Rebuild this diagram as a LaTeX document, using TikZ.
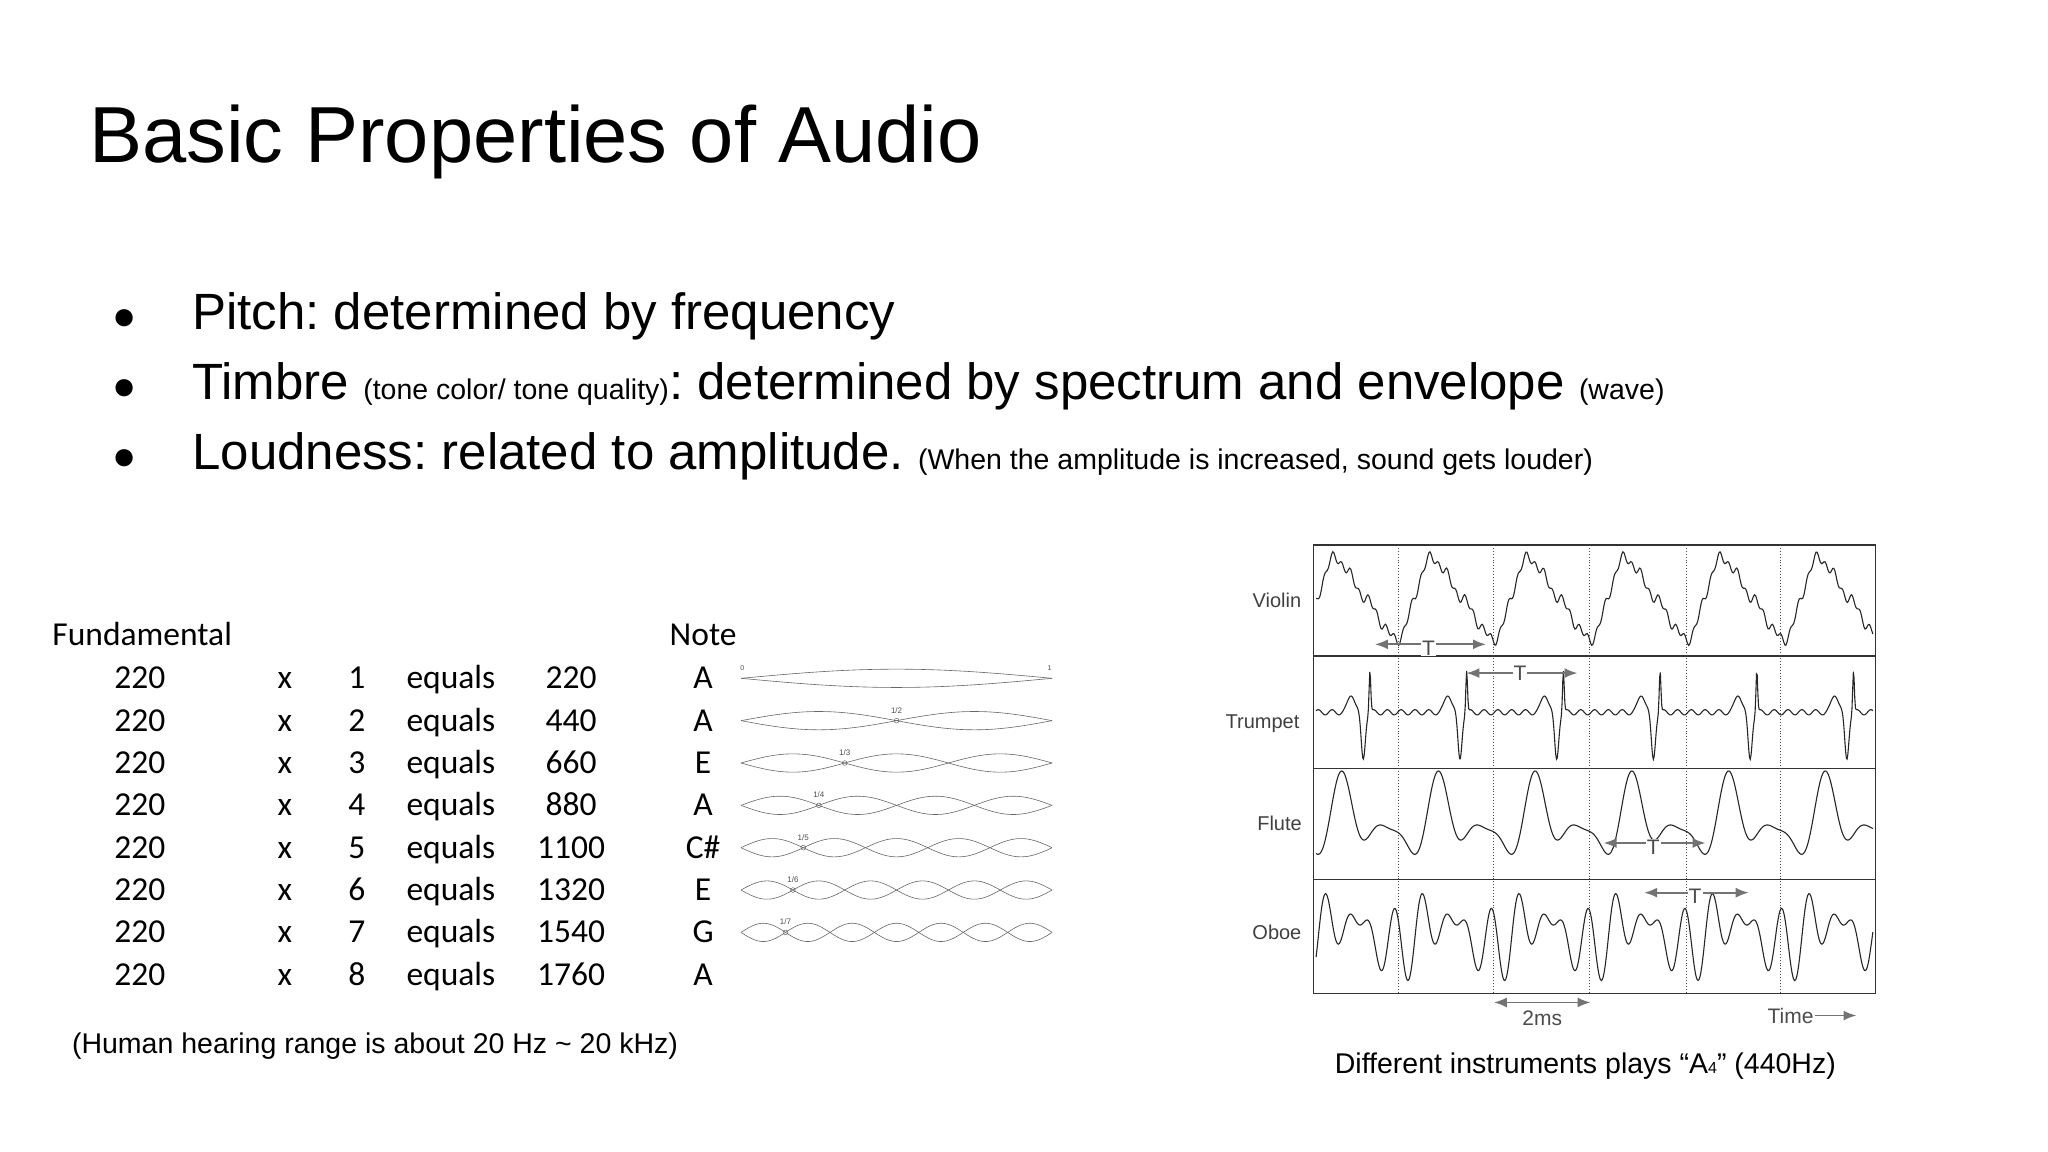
\documentclass[tikz,border=0pt]{standalone}
\usepackage{fontspec}
\setmainfont{Liberation Sans}
\newfontfamily\calfont{Carlito}
\usetikzlibrary{arrows.meta}
\frenchspacing
\begin{document}
\begin{tikzpicture}[x=1.307pt,y=-1.307pt,
  wave/.style={line width=1.1pt,black!85},
  harm/.style={line width=0.6pt,black!60},
  tarr/.style={line width=1.8pt,black!55,{Latex[length=13pt,width=10pt]}-{Latex[length=13pt,width=10pt]}},
  tab/.style={anchor=base,font=\calfont\fontsize{33.5}{38}\selectfont},
  lab/.style={font=\fontsize{20}{22}\selectfont,text=black!75},
  tl/.style={font=\fontsize{21}{22}\selectfont,text=black!70,fill=white,inner sep=1pt},
  bul/.style={anchor=base west,font=\fontsize{51}{58}\selectfont}]
\useasboundingbox (0,0) rectangle (1567,881.4);
\node[anchor=base west,font=\fontsize{79.5}{90}\selectfont,inner sep=0] (title) at (68,124) {Basic Properties of Audio};
% bullets
\foreach \y/\n in {252/b1,306/b2,359/b3}{\node[anchor=base,font=\fontsize{40}{44}\selectfont,inner sep=0] (\n d) at (95,\y) {●};}
\node[bul,inner sep=0] (b1) at (147,252) {Pitch: determined by frequency};
\node[bul,inner sep=0] (b2) at (147,306) {Timbre {\fontsize{28.5}{30}\selectfont(tone color/ tone quality)}: determined by spectrum and envelope {\fontsize{28.5}{30}\selectfont(wave)}};
\node[bul,inner sep=0] (b3) at (147,359) {Loudness: related to amplitude. {\fontsize{28.5}{30}\selectfont(When the amplitude is increased, sound gets louder)}};
% table
\node[tab,anchor=base west,inner sep=0] (fund) at (40,494) {Fundamental};
\node[tab] (note) at (538,494) {Note};
\foreach \i/\r/\nt in {1/220/A,2/440/A,3/660/E,4/880/A,5/1100/C\#,6/1320/E,7/1540/G,8/1760/A}{
  \pgfmathsetmacro\yy{527+32.4*(\i-1)}
  \node[tab] (f\i) at (107,\yy) {220};
  \node[tab] (x\i) at (218,\yy) {x};
  \node[tab] (m\i) at (273,\yy) {\i};
  \node[tab] (e\i) at (345,\yy) {equals};
  \node[tab] (r\i) at (437,\yy) {\r};
  \node[tab] (n\i) at (538,\yy) {\nt};
}
\foreach \i in {1,...,7}{
  \pgfmathsetmacro\yc{519+32.4*(\i-1)}
  \draw[harm] plot[domain=567:805,samples=120] (\x,{\yc+7*sin(\i*180/238*(\x-567))});
  \draw[harm] plot[domain=567:805,samples=120] (\x,{\yc-7*sin(\i*180/238*(\x-567))});
}
\node[font=\fontsize{7}{8}\selectfont,text=black!70] (z0) at (568,511) {0};
\node[font=\fontsize{7}{8}\selectfont,text=black!70] (z1) at (803,511) {1};
\foreach \i in {2,...,7}{
  \pgfmathsetmacro\yc{519+32.4*(\i-1)}
  \pgfmathsetmacro\xc{567+238/\i}
  \draw[black!60,line width=0.5pt] (\xc,\yc) circle (1.8);
  \node[font=\fontsize{8}{9}\selectfont,text=black!70] (h\i) at (\xc,\yc-8) {1/\i};
}
\node[anchor=base west,font=\fontsize{28.5}{32}\selectfont,inner sep=0] (hr) at (55,806) {(Human hearing range is about 20 Hz \textasciitilde{} 20 kHz)};
% instrument chart
\draw[line width=1.4pt,black!80] (1005,417) rectangle (1435,760);
\foreach \y in {502,588,673}{\draw[line width=1.3pt,black!80] (1005,\y) -- (1435,\y);}
\foreach \x in {1070,1143,1216,1290,1362}{\draw[dotted,line width=0.9pt,black!70] (\x,417) -- (\x,760);}
\begin{scope}
\clip (1005,417) rectangle (1435,760);
\draw[wave] plot[domain=1007:1433,samples=500] (\x,{458-28*sin(360/74*mod(\x-1082+740,74))-7*sin(720/74*mod(\x-1082+740,74))+3*sin(3960/74*mod(\x-1082+740,74))+3*sin(1800/74*mod(\x-1082+740,74))});
\draw[wave] plot[domain=1007:1433,samples=800] (\x,{545-2*sin(2520/74*mod(\x-1080+740,74))+36*exp(-((mod(\x-1080+740,74)/74-0.5)/0.03)^2)-32*exp(-((mod(\x-1080+740,74)/74-0.57)/0.012)^2)-14*exp(-((mod(\x-1080+740,74)/74-0.38)/0.05)^2)});
\draw[wave] plot[domain=1007:1433,samples=500] (\x,{630-16*sin(360/74*mod(\x-1020+740,74)+40)-18*sin(720/74*mod(\x-1020+740,74)+30)-7*sin(1080/74*mod(\x-1020+740,74))});
\draw[wave] plot[domain=1007:1433,samples=600] (\x,{714-16*sin(1080/74*mod(\x-1010+740,74))-15*sin(1440/74*mod(\x-1010+740,74)+40)-10*sin(360/74*mod(\x-1010+740,74))});
\end{scope}
\draw[tarr] (1052,493) -- (1137,493); \node[tl] (t1) at (1093,496) {T};
\draw[tarr] (1122,515) -- (1207,515); \node[tl] (t2) at (1163,515) {T};
\draw[tarr] (1227,645) -- (1305,645); \node[tl] (t3) at (1265,648) {T};
\draw[tarr] (1258,683) -- (1338,683); \node[tl] (t4) at (1297,686) {T};
\draw[tarr] (1143,767) -- (1217,767); \node[tl] (ms) at (1180,779) {2ms};
\node[tl] (time) at (1370,777) {Time};
\draw[line width=1.8pt,black!55,-{Latex[length=13pt,width=10pt]}] (time.east) -- ++(32,0);
\node[lab] (vio) at (977,459) {Violin};
\node[lab] (tru) at (966,554) {Trumpet};
\node[lab] (flu) at (979,630) {Flute};
\node[lab] (obo) at (977,713) {Oboe};
\node[anchor=base,font=\fontsize{28.5}{32}\selectfont,inner sep=0] (cap) at (1213,821) {Different instruments plays “A{\fontsize{16}{18}\selectfont 4}” (440Hz)};
\end{tikzpicture}
\end{document}
